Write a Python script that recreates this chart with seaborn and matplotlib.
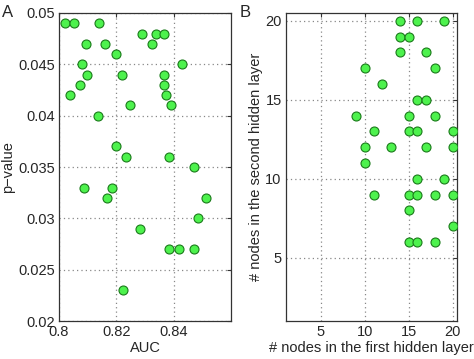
import numpy as np
import pandas as pd
import matplotlib
matplotlib.use('Agg')
import matplotlib.pyplot as plt
import seaborn as sns

# panel A: AUC vs p-value
auc = [0.8022, 0.8051, 0.8140, 0.8095, 0.8160, 0.8200, 0.8290, 0.8340, 0.8365,
       0.8326, 0.8079, 0.8099, 0.8219, 0.8429, 0.8367, 0.8367, 0.8372, 0.8392,
       0.8074, 0.8040, 0.8247, 0.8136, 0.8199, 0.8233, 0.8384, 0.8470,
       0.8087, 0.8184, 0.8167, 0.8514, 0.8484, 0.8284, 0.8384, 0.8419, 0.8472,
       0.8222]
pval = [0.049, 0.049, 0.049, 0.047, 0.047, 0.046, 0.048, 0.048, 0.048,
        0.047, 0.045, 0.044, 0.044, 0.045, 0.044, 0.043, 0.042, 0.041,
        0.043, 0.042, 0.041, 0.040, 0.037, 0.036, 0.036, 0.035,
        0.033, 0.033, 0.032, 0.032, 0.030, 0.029, 0.027, 0.027, 0.027,
        0.023]

# panel B: nodes in first vs second hidden layer
first = [14, 16, 19, 14, 15, 14, 17, 10, 18, 12, 16, 17, 9, 15, 18, 11, 15, 16,
         20, 10, 13, 17, 20, 10, 16, 19, 11, 15, 16, 18, 20, 15, 20, 15, 16, 18]
second = [20, 20, 20, 19, 19, 18, 18, 17, 17, 16, 15, 15, 14, 14, 14, 13, 13, 13,
          13, 12, 12, 12, 12, 11, 10, 10, 9, 9, 9, 9, 9, 8, 7, 6, 6, 6]

a_xticks = [0.8, 0.82, 0.84]
a_yticks = [0.02, 0.025, 0.03, 0.035, 0.04, 0.045, 0.05]
b_ticks = [5, 10, 15, 20]

sns.set_style('white')
plt.rcParams['font.family'] = ['Liberation Sans', 'DejaVu Sans']
plt.rcParams['font.size'] = 10.5

df_a = pd.DataFrame({'AUC': auc, 'p': pval})
df_b = pd.DataFrame({'first': first, 'second': second})

fig = plt.figure(figsize=(4.74, 3.59), dpi=100)
ax1 = fig.add_axes([0.1245, 0.1058, 0.3625, 0.858])
ax2 = fig.add_axes([0.603, 0.1058, 0.361, 0.858])

face = '#4df24d'
edge = '#1a7a1a'
sns.scatterplot(data=df_a, x='AUC', y='p', ax=ax1, s=42, color=face,
                edgecolor=edge, linewidth=0.8, zorder=3)
sns.scatterplot(data=df_b, x='first', y='second', ax=ax2, s=42, color=face,
                edgecolor=edge, linewidth=0.8, zorder=3)

ax1.set_xlim(0.8, 0.86)
ax1.set_ylim(0.02, 0.05)
ax1.set_xticks(a_xticks)
ax1.set_xticklabels([f'{v:g}' for v in a_xticks])
ax1.set_yticks(a_yticks)
ax1.set_yticklabels([f'{v:g}' for v in a_yticks])
ax1.set_xlabel('AUC')
ax1.set_ylabel('p\u2212value')

ax2.set_xlim(1, 20.5)
ax2.set_ylim(1, 20.5)
ax2.set_xticks(b_ticks)
ax2.set_yticks(b_ticks)
ax2.set_xlabel('# nodes in the first hidden layer')
ax2.set_ylabel('# nodes in the second hidden layer')

for ax in (ax1, ax2):
    ax.grid(True, linestyle=(0, (1, 2.5)), color='#888888', linewidth=0.9)
    ax.set_axisbelow(True)
    ax.tick_params(direction='in', top=True, right=True, length=3,
                   labelsize=10.5, pad=3, color='#333333')
    for sp in ax.spines.values():
        sp.set_color('#333333')
        sp.set_linewidth(0.9)
    ax.xaxis.labelpad = 1
    ax.yaxis.labelpad = 2

fig.text(0.005, 0.965, 'A', fontsize=12, va='center', ha='left')
fig.text(0.505, 0.965, 'B', fontsize=12, va='center', ha='left')

fig.savefig('out.png', dpi=100)
